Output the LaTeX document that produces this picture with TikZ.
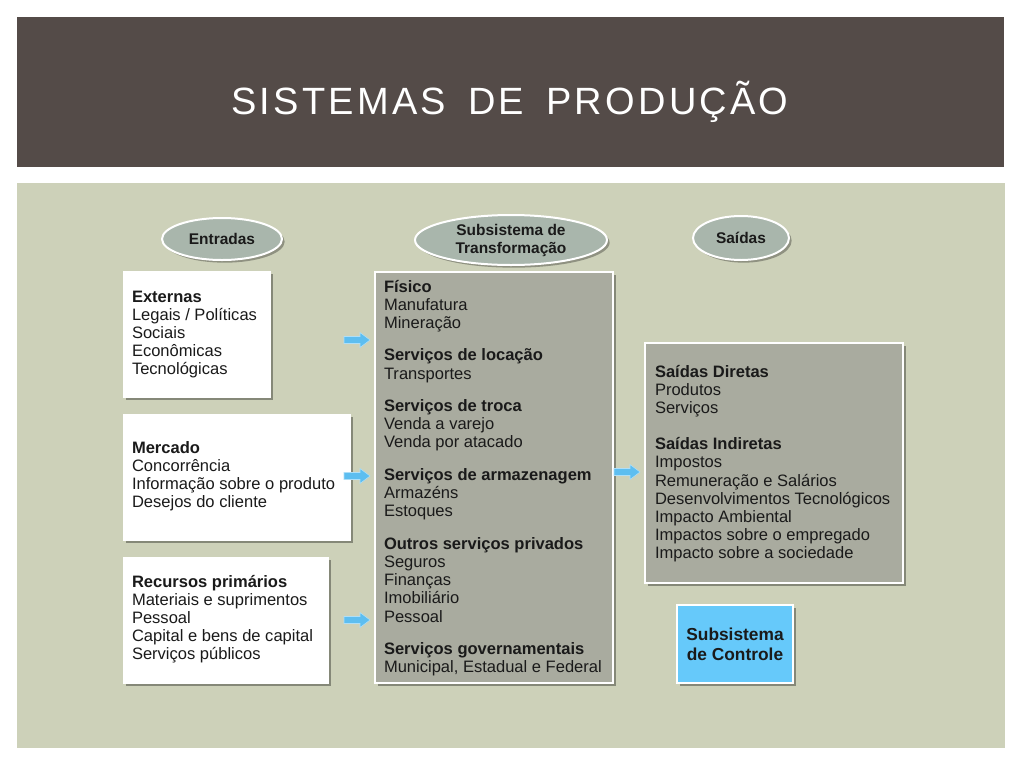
\documentclass[tikz,border=0pt]{standalone}
\usepackage{fontspec}
\setmainfont{Liberation Sans}
\newfontfamily\titlefont[LetterSpace=8.5, WordSpace=1.6]{Liberation Sans}
\usetikzlibrary{shapes.geometric,shadows}
\definecolor{banner}{HTML}{544B48}
\definecolor{panel}{HTML}{CDD1B9}
\definecolor{graybox}{HTML}{A9AB9F}
\definecolor{ellfill}{HTML}{A9B6AC}
\definecolor{ctrl}{HTML}{66C9FA}
\definecolor{arrowblue}{HTML}{5DBEF0}
\definecolor{txt}{HTML}{1A1A1A}
\begin{document}
\begin{tikzpicture}[x=0.75pt,y=-0.75pt,
  every node/.style={inner sep=0pt, outer sep=0pt},
  shade/.style={drop shadow={shadow xshift=2.5pt, shadow yshift=-2.5pt, opacity=0.35, fill=black}},
  whitebox/.style={rectangle, fill=white, draw=white, shade},
  graybox/.style={rectangle, fill=graybox, draw=white, line width=1.5pt, shade},
  ctrlbox/.style={rectangle, fill=ctrl, draw=white, line width=1.5pt, shade, align=center,
     font=\fontsize{13}{15}\selectfont\bfseries, text=txt},
  ovalnode/.style={ellipse, fill=ellfill, draw=white, line width=1.5pt,
     drop shadow={shadow xshift=2pt, shadow yshift=-2pt, opacity=0.3, fill=black},
     align=center, font=\fontsize{11.6}{13.5}\selectfont\bfseries, text=txt},
  bodytext/.style={font=\fontsize{12.4}{13.65}\selectfont, align=left, anchor=north west, text=txt},
  blockarrow/.pic={\filldraw[fill=arrowblue, draw=arrowblue!50!white, line width=0.4pt]
     (-13,-3.5) -- (3,-3.5) -- (3,-7.5) -- (13,0) -- (3,7.5) -- (3,3.5) -- (-13,3.5) -- cycle;}
]
\useasboundingbox (0,0) rectangle (1024,768);
\fill[white] (0,0) rectangle (1024,768);
% banner
\fill[banner] (17,17) rectangle (1004,167);
\node[anchor=base, text=white, font=\titlefont\fontsize{28.5}{30}\selectfont] (title) at (510,114) {SISTEMAS DE PRODUÇÃO};
% panel
\fill[panel] (17,183) rectangle (1005,748);

% ovals
\node[ovalnode, minimum width=90pt, minimum height=31.5pt] (entr) at (222,239) {Entradas};
\node[ovalnode, minimum width=144pt, minimum height=37.5pt] (trans) at (511,240) {Subsistema de\\Transformação};
\node[ovalnode, minimum width=72pt, minimum height=33pt] (said) at (741,238) {Saídas};

% left boxes
\node[whitebox, minimum width=110.25pt, minimum height=94.5pt] (ext) at (196.5,334) {};
\node[whitebox, minimum width=170.25pt, minimum height=94.5pt] (merc) at (236.5,477) {};
\node[whitebox, minimum width=153.75pt, minimum height=94.5pt] (rec) at (225.5,620) {};

\node[bodytext] (extt) at (132,288.7) {\rule{0pt}{10pt}\textbf{Externas}\\Legais / Políticas\\Sociais\\Econômicas\\Tecnológicas};
\node[bodytext] (merct) at (132,439.7) {\rule{0pt}{10pt}\textbf{Mercado}\\Concorrência\\Informação sobre o produto\\Desejos do cliente};
\node[bodytext] (rect) at (132,573.7) {\rule{0pt}{10pt}\textbf{Recursos primários}\\Materiais e suprimentos\\Pessoal\\Capital e bens de capital\\Serviços públicos};

% center box
\node[graybox, minimum width=178.5pt, minimum height=308.25pt] (ctr) at (494,477.5) {};
\node[bodytext] (ctrt) at (384,278.7) {\rule{0pt}{10pt}\textbf{Físico}\\Manufatura\\Mineração\\[10.7pt]
\textbf{Serviços de locação}\\Transportes\\[10.7pt]
\textbf{Serviços de troca}\\Venda a varejo\\Venda por atacado\\[10.7pt]
\textbf{Serviços de armazenagem}\\Armazéns\\Estoques\\[10.7pt]
\textbf{Outros serviços privados}\\Seguros\\Finanças\\Imobiliário\\Pessoal\\[10.7pt]
\textbf{Serviços governamentais}\\Municipal, Estadual e Federal};

% outputs box
\node[graybox, minimum width=193.5pt, minimum height=180pt] (out) at (774,463) {};
\node[bodytext] (outt) at (655,363.7) {\rule{0pt}{10pt}\textbf{Saídas Diretas}\\Produtos\\Serviços\\[13.5pt]
\textbf{Saídas Indiretas}\\Impostos\\Remuneração e Salários\\Desenvolvimentos Tecnológicos\\Impacto Ambiental\\Impactos sobre o empregado\\Impacto sobre a sociedade};

% control
\node[ctrlbox, minimum width=87pt, minimum height=58.5pt] (ctl) at (735,644) {Subsistema\\de Controle};

% arrows
\pic at (357,340) {blockarrow};
\pic at (357,476) {blockarrow};
\pic at (357,620) {blockarrow};
\pic at (627,472) {blockarrow};
\end{tikzpicture}
\end{document}
